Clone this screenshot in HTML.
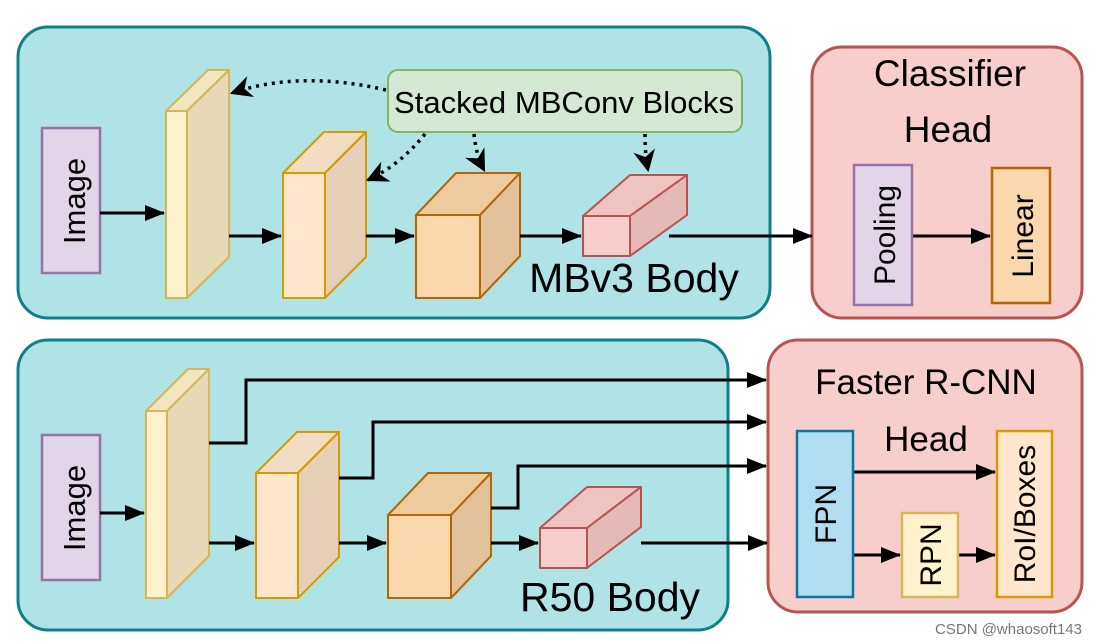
<!DOCTYPE html>
<html><head><meta charset="utf-8"><style>html,body{margin:0;padding:0;background:#fff}svg{display:block}text{font-family:"Liberation Sans",sans-serif}</style></head><body>
<svg width="1097" height="644" viewBox="0 0 1097 644" xmlns="http://www.w3.org/2000/svg">
<defs>
<marker id="a" viewBox="0 0 20 16" refX="19" refY="8" markerWidth="20" markerHeight="16" orient="auto" markerUnits="userSpaceOnUse"><path d="M0,0 L20,8 L0,16 z" fill="#000"/></marker>
<marker id="b" viewBox="0 0 10 10" refX="9" refY="5" markerWidth="22" markerHeight="22" orient="auto" markerUnits="userSpaceOnUse"><path d="M0,0 L10,5 L0,10 L3,5 z" fill="#000"/></marker>
</defs>
<g stroke-width="3">
<rect x="18" y="27" width="752" height="291" rx="30" fill="#b0e3e6" stroke="#0e8088"/>
<rect x="812" y="47" width="270" height="271" rx="30" fill="#f8cecc" stroke="#b85450"/>
<rect x="18" y="340" width="710" height="290" rx="30" fill="#b0e3e6" stroke="#0e8088"/>
<rect x="768" y="340" width="314" height="272" rx="30" fill="#f8cecc" stroke="#b85450"/>
</g>
<g stroke-width="2.5">
<rect x="42" y="128" width="58" height="145" fill="#e1d5e7" stroke="#9673a6"/>
<rect x="42" y="435" width="58" height="145" fill="#e1d5e7" stroke="#9673a6"/>
</g>
<text transform="translate(85,201) rotate(-90)" font-size="31" text-anchor="middle">Image</text>
<text transform="translate(85,508) rotate(-90)" font-size="31" text-anchor="middle">Image</text>
<g stroke-width="2" stroke-linejoin="round">
<g stroke="#d6b656"><path d="M166,111 L208,70 L229,70 L187,111z" fill="#f2e6c0"/><path d="M187,111 L229,70 L229,257 L187,298z" fill="#e6d9b5"/><rect x="166" y="111" width="21" height="187" fill="#fff2cc"/></g>
<g stroke="#d79b00"><path d="M283,173 L324,132 L366,132 L325,173z" fill="#f2dcc4"/><path d="M325,173 L366,132 L366,257 L325,298z" fill="#e6cfb7"/><rect x="283" y="173" width="42" height="125" fill="#ffe6cc"/></g>
<g stroke="#b46504"><path d="M416,215 L456,173 L520,173 L480,215z" fill="#edcb9e"/><path d="M480,215 L520,173 L520,256 L480,298z" fill="#e1c29b"/><rect x="416" y="215" width="64" height="83" fill="#fad7ac"/></g>
<g stroke="#b85450"><path d="M583,216 L630,175 L687,175 L630,216z" fill="#efc3c1"/><path d="M630,216 L687,175 L687,215 L630,256z" fill="#e4b9b7"/><rect x="583" y="216" width="47" height="40" fill="#f8cecc"/></g>
<g stroke="#d6b656"><path d="M146,411 L188,369 L209,369 L167,411z" fill="#f2e6c0"/><path d="M167,411 L209,369 L209,556 L167,598z" fill="#e6d9b5"/><rect x="146" y="411" width="21" height="187" fill="#fff2cc"/></g>
<g stroke="#d79b00"><path d="M256,473 L297,432 L339,432 L298,473z" fill="#f2dcc4"/><path d="M298,473 L339,432 L339,557 L298,598z" fill="#e6cfb7"/><rect x="256" y="473" width="42" height="125" fill="#ffe6cc"/></g>
<g stroke="#b46504"><path d="M388,515 L428,473 L491,473 L451,515z" fill="#edcb9e"/><path d="M451,515 L491,473 L491,556 L451,598z" fill="#e1c29b"/><rect x="388" y="515" width="63" height="83" fill="#fad7ac"/></g>
<g stroke="#b85450"><path d="M540,528 L587,487 L641,487 L587,528z" fill="#efc3c1"/><path d="M587,528 L641,487 L641,527 L587,568z" fill="#e4b9b7"/><rect x="540" y="528" width="47" height="40" fill="#f8cecc"/></g>
</g>
<rect x="388" y="70" width="354" height="62" rx="10" fill="#d5e8d4" stroke="#82b366" stroke-width="2"/>
<text x="564" y="113" font-size="31" text-anchor="middle" textLength="340" lengthAdjust="spacingAndGlyphs">Stacked MBConv Blocks</text>
<g stroke="#000" stroke-width="3" fill="none" marker-end="url(#a)">
<path d="M100,213 H164"/><path d="M229,236 H281"/><path d="M366,236 H414"/><path d="M520,236 H581"/><path d="M669,236 H812"/>
<path d="M912,236 H990"/>
<path d="M100,513 H144"/><path d="M209,543 H254"/><path d="M339,543 H386"/><path d="M491,543 H538"/><path d="M641,543 H767"/>
<path d="M209,443 H246 V380 H766"/><path d="M339,478 H373 V422 H766"/><path d="M491,508 H518 V466 H766"/>
<path d="M853,472 H995"/><path d="M853,555 H900"/><path d="M958,555 H995"/>
</g>
<g stroke="#000" stroke-width="3.5" fill="none" stroke-dasharray="3,5" marker-end="url(#b)">
<path d="M386,90 Q300,70 232,93"/>
<path d="M425,134 Q400,165 368,180"/>
<path d="M474,134 Q476,155 484,170"/>
<path d="M645,134 Q645,155 648,170"/>
</g>
<text x="634" y="292" font-size="41" text-anchor="middle">MBv3 Body</text>
<text x="610" y="611" font-size="41" text-anchor="middle">R50 Body</text>
<text x="950" y="86" font-size="37" text-anchor="middle">Classifier</text>
<text x="948" y="142" font-size="37" text-anchor="middle">Head</text>
<rect x="854" y="165" width="58" height="140" fill="#e1d5e7" stroke="#9673a6" stroke-width="2.5"/>
<rect x="992" y="168" width="58" height="135" fill="#fad7ac" stroke="#b46504" stroke-width="2.5"/>
<text transform="translate(895,235) rotate(-90)" font-size="30" text-anchor="middle">Pooling</text>
<text transform="translate(1033,236) rotate(-90)" font-size="30" text-anchor="middle">Linear</text>
<text x="926" y="394" font-size="35" text-anchor="middle">Faster R-CNN</text>
<text x="926" y="451" font-size="35" text-anchor="middle">Head</text>
<rect x="797" y="431" width="56" height="166" fill="#b1ddf0" stroke="#10739e" stroke-width="2.5"/>
<rect x="997" y="431" width="55" height="166" fill="#ffe6cc" stroke="#d79b00" stroke-width="2.5"/>
<rect x="902" y="513" width="56" height="84" fill="#fff2cc" stroke="#d6b656" stroke-width="2.5"/>
<text transform="translate(836,514) rotate(-90)" font-size="30" text-anchor="middle">FPN</text>
<text transform="translate(941,555) rotate(-90)" font-size="30" text-anchor="middle">RPN</text>
<text transform="translate(1035,514) rotate(-90)" font-size="30" text-anchor="middle">RoI/Boxes</text>
<text x="1082" y="634" font-size="15" fill="#777" text-anchor="end">CSDN @whaosoft143</text>
</svg>
</body></html>
